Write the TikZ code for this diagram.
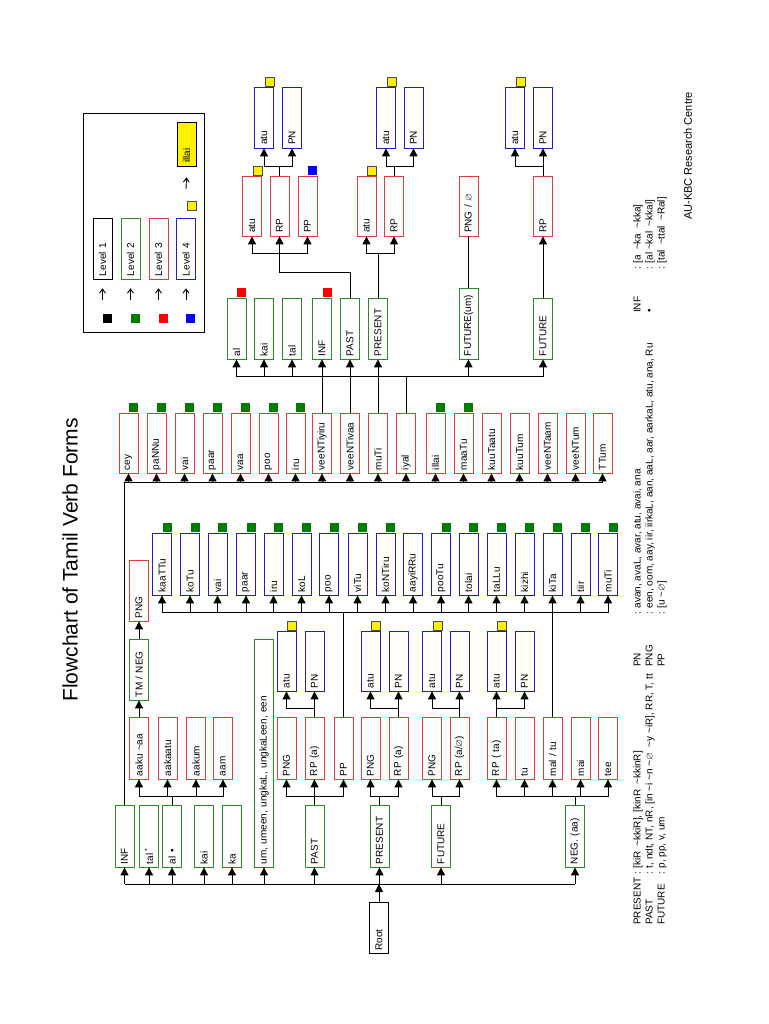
\documentclass[tikz,border=0pt]{standalone}
\usepackage{amssymb}
\usepackage{fontspec}
\setmainfont{Liberation Sans}
\usetikzlibrary{arrows.meta,positioning}

\definecolor{lgreen}{RGB}{40,140,40}
\definecolor{lred}{RGB}{225,60,60}
\definecolor{lblue}{RGB}{30,30,200}
\definecolor{sqgreen}{RGB}{0,125,0}
\definecolor{sqyellow}{RGB}{255,240,0}

\tikzset{
  box/.style = {draw, rotate=90, minimum height=19pt, inner xsep=3pt, inner ysep=0pt,
    text width=#1, align=left, line width=0.8pt, font=\fontsize{10}{12}\selectfont},
  box/.default = 55pt,
  l1/.style = {box=#1, draw=black},
  l2/.style = {box=#1, draw=lgreen},
  l3/.style = {box=#1, draw=lred},
  l4/.style = {box=#1, draw=lblue},
  l1/.default = 55pt, l2/.default = 55pt, l3/.default = 55pt, l4/.default = 55pt,
  sqr/.style = {minimum size=9pt, inner sep=0pt, fill=#1},
  arr/.style = {line width=0.9pt, -{Triangle[length=8pt,width=8pt]}},
  wire/.style = {line width=0.9pt},
  larr/.style = {line width=0.9pt, -{Straight Barb[length=4pt,width=6pt]}},
  note/.style = {rotate=90, inner sep=0pt, font=\fontsize{10}{12}\selectfont}
}
% fan out from a node's top to a bus at height #2
\newcommand{\fanout}[3]{%
  \draw[wire] (#1.east) -- (#1.east |- 0,#2);
  \foreach \c in {#3} {\draw[arr] (#1.east |- 0,#2) -| (\c.west);}}
% small coloured square on the top right corner of a box
\newcommand{\tagsq}[2]{\node[sqr=#2, anchor=south east] at (#1.south east) {};}
\newcommand{\tagy}[1]{\node[sqr=sqyellow, draw=black!70, line width=0.4pt, anchor=south east] at (#1.south east) {};}

\begin{document}
\begin{tikzpicture}[x=1pt, y=-1pt]
\useasboundingbox (0,0) rectangle (768,1024);

% title
\node[rotate=90, font=\fontsize{21}{24}\selectfont] (title) at (70,560) {Flowchart of Tamil Verb Forms};

% legend
\draw[line width=0.8pt] (83,113) rectangle (204,332);
\foreach \i/\x/\c/\s in {1/102.5/black/black, 2/130.5/lgreen/sqgreen, 3/158.5/lred/red, 4/186/lblue/blue} {
  \node[box, draw=\c] (lv\i) at (\x,248.5) {Level \i};
  \node[sqr=\s] (ls\i) at (\x+4.5,318.5) {};
  \draw[larr] ([xshift=-4.5pt,yshift=14pt]ls\i.north) -- ([yshift=-9pt]lv\i.west);
}
\node[sqr=sqyellow, draw=black!70, line width=0.4pt] (lsy) at (191.5,205.5) {};
\node[box=38pt, draw=black, fill=sqyellow] (lill) at (186.5,144) {illai};
\draw[larr] ([xshift=-5.5pt,yshift=12pt]lsy.north) -- ([yshift=-11pt]lill.west);

% level 1
\node[l1=45pt] (Root) at (379,928) {Root};

% level 2, bottom row
\foreach \nm/\x/\txt in {inf1/124.5/INF, tal1/149/tal\,\textsuperscript{*}, al1/172/al \textbullet,
    kai1/204/kai, ka1/232/ka, past1/314.5/PAST, pres1/379.5/PRESENT, fut1/441/FUTURE, neg1/575/NEG. (aa)}
  {\node[l2=56pt] (\nm) at (\x,836) {\txt};}
\node[l2=222pt] (um1) at (264,753) {um, umeen, ungkaL, ungkaLeen, een};

% level 3, bottom row
\foreach \nm/\x/\txt in {aaku/139/aaku \textasciitilde aa, aakaatu/167.5/aakaatu, aakum/196/aakum, aam/223/aam,
    png1/286.5/PNG, rpa1/314.5/RP (a), pp1/343.5/PP, png2/370.5/PNG, rpa2/398.5/RP (a),
    png3/432/PNG, rpa3/459.5/{RP (a/$\varnothing$)}, rpta/496.5/RP ( ta), tu1/524.5/tu,
    maltu/552.5/{mal / tu}, mai/580.5/mai, tee/608/tee}
  {\node[l3=56pt] (\nm) at (\x,748) {\txt};}
\node[l2] (tmneg) at (139,669.5) {TM / NEG};
\node[l3] (png0) at (139,590.5) {PNG};

% level 4, bottom row
\foreach \nm/\x/\txt in {at1/286.5/atu, pn1/314.5/PN, at2/370.5/atu, pn2/398.5/PN,
    at3/432/atu, pn3/459.5/PN, at4/496.5/atu, pn4/524.5/PN}
  {\node[l4=54pt] (\nm) at (\x,661) {\txt};}
\foreach \nm in {at1,at2,at3,at4} {\tagy{\nm}}

% verbs, level 4
\foreach \nm/\x/\txt in {kaaTTu/162/kaaTTu, koTu/190/koTu, vaib/217.5/vai, paarb/246/paar, irub/273.5/iru,
    koL/301.5/koL, poob/329/poo, viTu/357.5/viTu, koNTiru/385.5/koNTiru, aayiRRu/413/aayiRRu,
    pooTu/441/pooTu, tolai/468.5/tolai, taLLu/496.5/taLLu, kizhi/524.5/kizhi, kiTa/552.5/kiTa,
    tiir/580.5/tiir, muTib/608/muTi}
  {\node[l4=56pt] (\nm) at (\x,564) {\txt};}
\foreach \nm in {kaaTTu,koTu,vaib,paarb,irub,koL,poob,viTu,koNTiru,pooTu,tolai,taLLu,kizhi,kiTa,tiir,muTib}
  {\tagsq{\nm}{sqgreen}}

% verbs, level 3
\foreach \nm/\x/\txt in {cey/128.5/cey, paNNu/156.5/paNNu, vai/184.5/vai, paar/212.5/paar, vaa/240.5/vaa,
    poo/268.5/poo, iru/295.5/iru, vyiru/322/veeNTiyiru, vvaa/350/veeNTivaa, muTi/378/muTi,
    iyal/406/iyal, illai/435.5/illai, maaTu/463.5/maaTu, kuuTaatu/491.5/kuuTaatu, kuuTum/519.5/kuuTum,
    vtaam/547.5/veeNTaam, vtum/575.5/veeNTum, TTum/602.5/TTum}
  {\node[l3=54pt] (\nm) at (\x,443) {\txt};}
\foreach \nm in {cey,paNNu,vai,paar,vaa,poo,iru,illai,maaTu} {\tagsq{\nm}{sqgreen}}

% level 2, upper row
\foreach \nm/\x/\txt in {al2/236.5/al, kai2/264/kai, tal2/292/tal, inf2/322/INF, past2/350/PAST,
    pres2/378/PRESENT, fut2/543/FUTURE}
  {\node[l2] (\nm) at (\x,328.5) {\txt};}
\node[l2=65pt] (futum) at (468.5,323.5) {FUTURE(um)};
\tagsq{al2}{red} \tagsq{inf2}{red}

% level 3, upper row
\foreach \nm/\x/\txt in {at5/252/atu, rp5/279.5/RP, pp5/307.5/PP, at6/366.5/atu, rp6/394/RP,
    pngz/468.5/{PNG / $\varnothing$}, rp7/543/RP}
  {\node[l3=54pt] (\nm) at (\x,206) {\txt};}
\tagy{at5} \tagy{at6} \tagsq{pp5}{blue}

% level 4, upper row
\foreach \nm/\x/\txt in {at7/264/atu, pn7/292/PN, at8/386/atu, pn8/413.5/PN, at9/515/atu, pn9/543/PN}
  {\node[l4] (\nm) at (\x,117.5) {\txt};}
\tagy{at7} \tagy{at8} \tagy{at9}

% connectors
\draw[arr] (Root.east) -- (Root.east |- 0,884);
\draw[wire] (inf1.west |- 0,884) -- (neg1.west |- 0,884);
\foreach \c in {inf1,tal1,al1,kai1,ka1,um1,past1,pres1,fut1,neg1}
  {\draw[arr] (\c.west |- 0,884) -- (\c.west);}
\fanout{al1}{796}{aaku,aakaatu,aakum,aam}
\fanout{past1}{796}{png1,rpa1,pp1}
\fanout{pres1}{796}{png2,rpa2}
\fanout{fut1}{796}{png3,rpa3}
\fanout{neg1}{796}{rpta,tu1,maltu,mai,tee}
\draw[arr] (aaku.east) -- (tmneg.west);
\draw[arr] (tmneg.east) -- (png0.west);
\fanout{rpa1}{708}{at1,pn1}
\fanout{rpa2}{708}{at2,pn2}
\fanout{rpa3}{708}{at3,pn3}
\fanout{rpta}{708}{at4,pn4}
\fanout{pp1}{612}{kaaTTu,koTu,vaib,paarb,irub,koL,poob,viTu,koNTiru,aayiRRu,pooTu,tolai,taLLu,kizhi,kiTa,tiir,muTib}
\draw[wire] (maltu.east) -- (maltu.east |- 0,612);
\fanout{inf1}{482}{cey,paNNu,vai,paar,vaa,poo,iru,vyiru,vvaa,muTi,iyal,illai,maaTu,kuuTaatu,kuuTum,vtaam,vtum,TTum}
\draw[arr] (vyiru.east) -- (inf2.west);
\draw[arr] (vvaa.east) -- (past2.west);
\draw[arr] (muTi.east) -- (pres2.west);
\fanout{iyal}{376}{al2,kai2,tal2,futum,fut2}
\coordinate (pastj) at (279.5,253);
\draw[wire] (past2.east) |- (279.5,272) -- (pastj);
\foreach \c in {at5,rp5,pp5} {\draw[arr] (pastj) -| (\c.west);}
\fanout{pres2}{253}{at6,rp6}
\draw[wire] (futum.east) -- (pngz.west);
\draw[arr] (fut2.east) -- (rp7.west);
\fanout{rp5}{166}{at7,pn7}
\fanout{rp6}{166}{at8,pn8}
\fanout{rp7}{166}{at9,pn9}

% notes
\node[note, anchor=north west] (n1) at (632,925) {\begin{tabular}{@{}l@{ }l@{}}
  PRESENT & : [kiR\enspace\textasciitilde kkiR], [kinR\enspace\textasciitilde kkinR]\\
  PAST & : t, ndt, NT, nR, [in \textasciitilde i \textasciitilde n \textasciitilde$\varnothing$\enspace\textasciitilde y \textasciitilde iR], RR, T, tt\\
  FUTURE & : p, pp, v, um\end{tabular}};
\node[note, anchor=north west] (n2) at (632,667) {\begin{tabular}{@{}p{52pt}@{}l@{}}
  PN & : avan, avaL, avar, atu, avai, ana\\
  PNG & : een, oom, aay, iir, iirkaL, aan, aaL, aar, aarkaL, atu, ana, Ru\\
  PP & : [u \textasciitilde$\varnothing$]\end{tabular}};
\node[note, anchor=north west] (n3) at (632,313) {\begin{tabular}{@{}p{43pt}@{}l@{}}
  INF & : [a\enspace\textasciitilde ka\enspace\textasciitilde kka]\\
  \textbullet & : [al \textasciitilde kal\enspace\textasciitilde kkal]\\
  * & : [tal\enspace\textasciitilde ttal\enspace\textasciitilde Ral]\end{tabular}};
\node[note, font=\fontsize{11}{13}\selectfont] (auk) at (688,156) {AU-KBC Research Centre};
\end{tikzpicture}
\end{document}
